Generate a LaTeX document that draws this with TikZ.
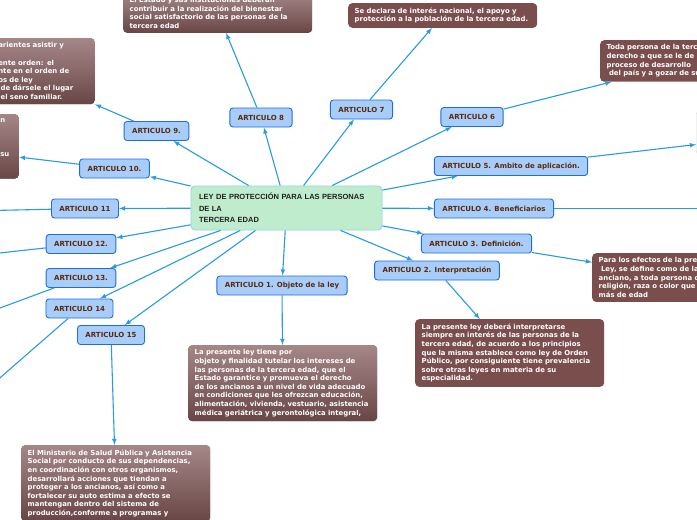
\documentclass[tikz,border=0pt]{standalone}
\usepackage{fontspec}
\newfontfamily\mapafont{DejaVu Sans}
\newfontfamily\leyfont{Liberation Sans}
\definecolor{linea}{HTML}{289BE1}
\definecolor{artfondo}{HTML}{A8CDFA}
\definecolor{artborde}{HTML}{1E6ED7}
\definecolor{arttexto}{HTML}{5A2A0A}
\definecolor{cafe}{HTML}{7B4E4E}
\definecolor{cafeclaro}{HTML}{A58787}
\definecolor{cafeoscuro}{HTML}{694646}
\definecolor{verde}{HTML}{C0ECCE}
\definecolor{verdeborde}{HTML}{90D5E0}

\begin{document}
\begin{tikzpicture}[x=1pt,y=-1pt,>=latex,
    centro/.style={draw=verdeborde,fill=verde,line width=0.9pt,rounded corners=4pt,
      minimum width=191pt,minimum height=44pt,text width=175pt,inner xsep=8pt,align=left,
      text=black!88,font=\leyfont\bfseries\fontsize{7.5}{11.5}\selectfont},
    articulo/.style={draw=artborde,fill=artfondo,line width=0.9pt,rounded corners=3pt,
      inner xsep=8pt,minimum height=19pt,text=arttexto,
      font=\mapafont\bfseries\fontsize{7}{8.4}\selectfont},
    texto/.style={fill=cafe,rounded corners=4pt,text=white,text width=176pt,
      inner xsep=6.5pt,inner ysep=4.5pt,align=left,
      font=\mapafont\bfseries\fontsize{6.9}{8.6}\selectfont},
    degradado/.style={texto,top color=cafeclaro,bottom color=cafeoscuro},
    enlace/.style={->,draw=linea,line width=1.1pt}]
  \useasboundingbox (0,0) rectangle (697,520);

  \node[centro] (ley) at (286.5,208) {LEY DE PROTECCIÓN PARA LAS PERSONAS\\DE LA\\TERCERA EDAD};

  \node[articulo] (a1) at (282,285.5) {ARTICULO 1. Objeto de la ley};
  \node[articulo] (a2) at (437,270.5) {ARTICULO 2. Interpretación};
  \node[articulo] (a3) at (476.5,243.5) {ARTICULO 3. Definición.};
  \node[articulo] (a4) at (494,208.5) {ARTICULO 4. Beneficiarios};
  \node[articulo] (a5) at (511,166) {ARTICULO 5. Ambito de aplicación.};
  \node[articulo] (a6) at (472,117) {ARTICULO 6};
  \node[articulo] (a7) at (361.5,109.5) {ARTICULO 7};
  \node[articulo] (a8) at (261,117.5) {ARTICULO 8};
  \node[articulo] (a9) at (156.5,131) {ARTICULO 9.};
  \node[articulo] (a10) at (114.5,168.5) {ARTICULO 10.};
  \node[articulo] (a11) at (85,208.5) {ARTICULO 11};
  \node[articulo] (a12) at (81,244) {ARTICULO 12.};
  \node[articulo] (a13) at (81,278) {ARTICULO 13.};
  \node[articulo] (a14) at (79.5,308.5) {ARTICULO 14};
  \node[articulo] (a15) at (111,335) {ARTICULO 15};

  % cuadros de texto
  \node[degradado,anchor=north west] (t1) at (188,345) {La presente ley tiene por\\objeto y finalidad tutelar los intereses de\\las personas de la tercera edad, que el\\Estado garantice y promueva el derecho\\de los ancianos a un nivel de vida adecuado\\en condiciones que les ofrezcan educación,\\alimentación, vivienda, vestuario, asistencia\\médica geriátrica y gerontológica integral,};
  \node[texto,anchor=north west] (t2) at (415,319) {La presente ley deberá interpretarse\\siempre en interés de las personas de la\\tercera edad, de acuerdo a los principios\\que la misma establece como ley de Orden\\Público, por consiguiente tiene prevalencia\\sobre otras leyes en materia de su\\especialidad.};
  \node[texto,anchor=north west] (t3) at (592,253) {Para los efectos de la presente\\\ Ley, se define como de la tercera edad o\\anciano, a toda persona de cualquier sexo,\\religión, raza o color que tenga 60 años o\\más de edad};
  \node[draw=black!15,fill=white,rounded corners=4pt,minimum width=204pt,minimum height=45pt,anchor=north west] (t5) at (696,110) {};
  \node[texto,anchor=north west] (t6) at (600,40) {Toda persona de la tercera edad tiene\\derecho a que se le de participación en el\\proceso de desarrollo\\\ del país y a gozar de sus beneficios.};
  \node[texto,anchor=north west] (t7) at (348,3) {Se declara de interés nacional, el apoyo y\\protección a la población de la tercera edad.};
  \node[degradado,anchor=south west] (t8) at (123,33) {El Estado y sus instituciones deberán\\contribuir a la realización del bienestar\\social satisfactorio de las personas de la\\tercera edad};
  \node[degradado,text width=90pt,anchor=north east] (t9) at (95,38) {arientes asistir y\\\mbox{}\\ente orden: el\\nte en el orden de\\os de ley\\\ de dársele el lugar\\\ el seno familiar.};
  \node[degradado,text width=12pt,anchor=north east] (t10) at (19,114) {n\\\mbox{}\\\mbox{}\\\mbox{}\\su\\\mbox{}\\\mbox{}};
  \node[degradado,anchor=north west] (t15) at (21,445) {El Ministerio de Salud Pública y Asistencia\\Social por conducto de sus dependencias,\\en coordinación con otros organismos,\\desarrollará acciones que tiendan a\\proteger a los ancianos, así como a\\fortalecer su auto estima a efecto se\\mantengan dentro del sistema de\\producción,conforme a programas y};

  % extremos fuera del cuadro
  \coordinate (fin4) at (900,208.5);
  \coordinate (fin11) at (-100,212.5);
  \coordinate (fin12) at (-100,264);
  \coordinate (fin13) at (-100,345);
  \coordinate (fin14) at (-100,465);

  \draw[enlace] (ley) -- (a1);
  \draw[enlace] (ley) -- (a2);
  \draw[enlace] (ley) -- (a3);
  \draw[enlace] (ley) -- (a4);
  \draw[enlace] (ley) -- (a5);
  \draw[enlace] (ley) -- (a6);
  \draw[enlace] (ley) -- (a7);
  \draw[enlace] (ley) -- (a8);
  \draw[enlace] (ley) -- (a9);
  \draw[enlace] (ley) -- (a10);
  \draw[enlace] (ley) -- (a11);
  \draw[enlace] (ley) -- (a12);
  \draw[enlace] (ley) -- (a13);
  \draw[enlace] (ley) -- (a14);
  \draw[enlace] (ley) -- (a15);

  \draw[enlace] (a1) -- (t1);
  \draw[enlace] (a2) -- (t2);
  \draw[enlace] (a3) -- (t3);
  \draw[enlace] (a4) -- (fin4);
  \draw[enlace] (a5) -- (t5);
  \draw[enlace] (a6) -- (t6);
  \draw[enlace] (a7) -- (t7);
  \draw[enlace] (a8) -- (t8);
  \draw[enlace] (a9) -- (t9.south east);
  \draw[enlace] (a10) -- (t10.-40);
  \draw[enlace] (a11) -- (fin11);
  \draw[enlace] (a12) -- (fin12);
  \draw[enlace] (a13) -- (fin13);
  \draw[enlace] (a14) -- (fin14);
  \draw[enlace] (a15) -- (t15);
\end{tikzpicture}
\end{document}
